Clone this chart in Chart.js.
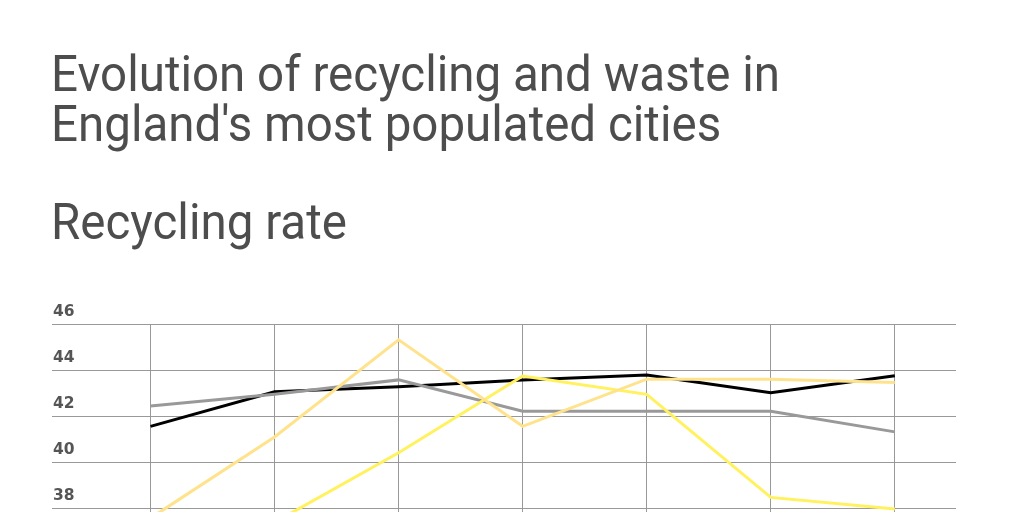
<!DOCTYPE html>
<html>
<head>
<meta charset="utf-8">
<script src="https://cdn.jsdelivr.net/npm/chart.js@4"></script>
<style>
  html, body { margin: 0; padding: 0; background: #fff; overflow: hidden; }
  body { width: 1024px; height: 512px; position: relative; font-family: Roboto, sans-serif; color: #4d4d4d; }
  .title, .subtitle { position: absolute; left: 51px; font-size: 47.5px; line-height: 48.3px; white-space: nowrap; transform: scaleY(1.035); transform-origin: 0 0; }
  .title { top: 50px; }
  .subtitle { top: 198px; }
  #wrap { position: absolute; left: 0; top: 290px; width: 1024px; height: 426px; }
</style>
</head>
<body>
<div class="title">Evolution of recycling and waste in<br>England's most populated cities</div>
<div class="subtitle">Recycling rate</div>
<div id="wrap"><canvas id="Chart"></canvas></div>
<script>
// years (axis labels sit below the visible area)
categories = ["2010/11", "2011/12", "2012/13", "2013/14", "2014/15", "2015/16", "2016/17"];
yTicks = [30, 32, 34, 36, 38, 40, 42, 44, 46];

// recycling rate (%) per city
cityBlack = [41.55, 43.05, 43.27, 43.57, 43.78, 43.01, 43.75];
cityGrey = [42.43, 42.95, 43.57, 42.21, 42.21, 42.21, 41.31];
cityPale = [37.56, 41.09, 45.31, 41.55, 43.6, 43.6, 43.46];
cityYellow = [35.6, 37.38, 40.4, 43.74, 42.94, 38.46, 37.96];

let myChart;

function toPoints(values) {
    return values.map((v, i) => ({ x: i, y: v }));
}

function createChart() {
    myChart = new Chart("Chart", {
        type: "line",
        data: {
            datasets: [
                { label: "Pale", data: toPoints(cityPale), borderColor: "#ffe38c", borderWidth: 3 },
                { label: "Yellow", data: toPoints(cityYellow), borderColor: "#fff25e", borderWidth: 3 },
                { label: "Grey", data: toPoints(cityGrey), borderColor: "#999999", borderWidth: 3 },
                { label: "Black", data: toPoints(cityBlack), borderColor: "#000000", borderWidth: 3 }
            ]
        },
        options: {
            responsive: true,
            maintainAspectRatio: false,
            animation: false,
            elements: { point: { radius: 0 }, line: { tension: 0 } },
            layout: { padding: { left: 50, right: 68, top: 34, bottom: 0 } },
            plugins: { legend: { display: false }, tooltip: { enabled: false } },
            scales: {
                x: {
                    type: "linear",
                    min: -0.794,
                    max: 6.493,
                    afterBuildTicks: (scale) => { scale.ticks = categories.map((c, i) => ({ value: i })); },
                    grid: { color: "#999999", drawTicks: false },
                    border: { display: false },
                    ticks: { callback: (v) => categories[v], color: "#555", font: { family: "DejaVu Sans", size: 15, weight: "bold" } }
                },
                y: {
                    min: yTicks[0],
                    max: yTicks[yTicks.length - 1],
                    afterBuildTicks: (scale) => { scale.ticks = yTicks.map((v) => ({ value: v })); },
                    grid: { color: "#999999", drawTicks: false },
                    border: { display: false },
                    ticks: {
                        mirror: true,
                        padding: 1,
                        labelOffset: -12,
                        color: "#555555",
                        font: { family: "DejaVu Sans", size: 15.5, weight: "bold" }
                    }
                }
            }
        }
    });
}

createChart();
</script>
</body>
</html>
